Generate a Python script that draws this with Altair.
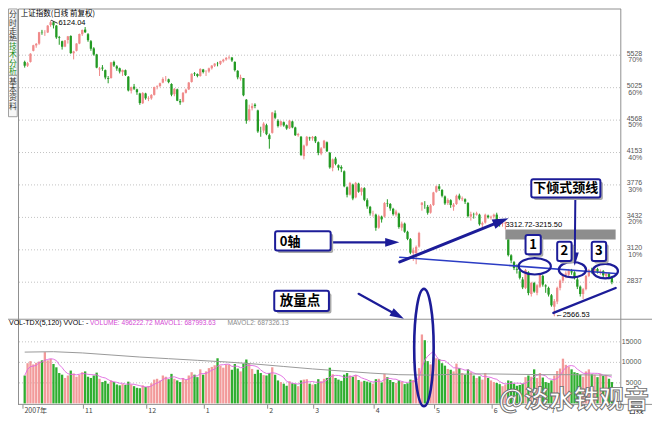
import altair as alt
import pandas as pd

# ---------------- data ----------------
opens = [5420,5360,5420,5600,5690,5720,5920,5900,5910,6040,
         6090,6030,5830,5760,5670,5780,5850,5560,5600,5720,
         5880,5960,5880,5760,5640,5540,5300,5330,5290,5170,
         5170,5420,5350,5320,5260,5290,5190,4980,5040,5000,
         4940,4800,4940,4860,4870,4920,5040,5050,5100,5160,
         5150,5080,4930,5000,4830,4820,4950,5000,5110,5240,
         5230,5200,5300,5270,5270,5320,5360,5390,5390,5430,
         5460,5490,5490,5420,5280,5160,5170,4850,4570,4730,
         4780,4700,4420,4430,4500,4370,4400,4660,4560,4500,
         4540,4500,4460,4550,4470,4370,4350,4110,4240,4340,
         4330,4350,4280,4140,4210,4280,4150,3970,4080,4000,
         3980,3930,3750,3670,3780,3640,3790,3700,3740,3610,
         3540,3470,3460,3330,3440,3440,3580,3570,3520,3460,
         3470,3330,3370,3290,3220,3090,3090,3150,3560,3560,
         3540,3480,3560,3700,3760,3720,3650,3580,3610,3540,
         3570,3660,3620,3620,3580,3440,3460,3460,3460,3360,
         3380,3450,3430,3440,3460,3390,3370,3370,3215.5,3070,
         3010,2950,2930,2860,2790,2920,2740,2830,2750,2800,
         2890,2810,2790,2730,2640,2680,2790,2850,2900,2900,
         2930,2920,2860,2800,2740,2780,2890,2940,2930,2950,
         2920,2930,2890,2910,2880]
highs = [5440,5420,5560,5700,5730,5920,5955,5950,6040,6124.04,
         6110,6040,5850,5770,5780,5850,5860,5600,5725,5890,
         5960,6005,5900,5780,5660,5550,5340,5370,5300,5200,
         5420,5440,5370,5330,5300,5300,5200,5040,5080,5010,
         4950,4960,4950,4900,4930,5040,5060,5100,5180,5200,
         5160,5090,5020,5010,4860,4960,5010,5110,5240,5260,
         5240,5320,5310,5290,5330,5370,5400,5420,5440,5470,
         5500,5522,5500,5430,5290,5220,5170,4860,4780,4800,
         4800,4710,4480,4540,4520,4390,4680,4700,4580,4560,
         4550,4510,4570,4560,4480,4400,4360,4250,4360,4350,
         4360,4360,4290,4220,4310,4290,4160,4080,4100,4010,
         4000,3940,3760,3810,3790,3810,3800,3750,3750,3630,
         3550,3500,3470,3460,3450,3590,3620,3580,3530,3510,
         3480,3390,3380,3300,3230,3140,3160,3290,3590,3600,
         3560,3570,3700,3770,3786,3730,3660,3630,3620,3580,
         3670,3680,3650,3630,3590,3490,3480,3490,3470,3390,
         3470,3460,3450,3470,3480,3410,3390,3390,3215.5,3080,
         3020,2990,2940,2880,2950,2930,2840,2840,2820,2910,
         2900,2820,2800,2740,2700,2800,2860,2910,2930,2950,
         2950,2930,2880,2810,2790,2900,2950,2960,2970,2960,
         2945,2940,2920,2920,2890]
lows = [5330,5340,5410,5590,5650,5700,5870,5850,5900,6010,
        5980,5800,5700,5620,5660,5720,5550,5460,5590,5710,
        5850,5900,5750,5600,5520,5320,5200,5280,5150,5090,
        5160,5340,5280,5240,5200,5200,4970,4940,4990,4920,
        4778,4790,4850,4830,4850,4910,5000,5030,5090,5120,
        5090,4900,4900,4830,4778,4810,4940,4990,5100,5200,
        5180,5190,5240,5200,5250,5300,5340,5350,5370,5410,
        5440,5460,5420,5270,5150,5130,4900,4520,4550,4700,
        4730,4400,4350,4400,4370,4200,4390,4580,4470,4480,
        4480,4440,4450,4460,4360,4350,4110,4070,4230,4300,
        4300,4270,4120,4120,4200,4160,3960,3930,4000,3940,
        3920,3750,3640,3660,3610,3630,3690,3660,3600,3520,
        3450,3440,3300,3320,3380,3430,3540,3500,3450,3440,
        3320,3300,3280,3210,3080,3020,2990.79,3140,3500,3520,
        3460,3470,3550,3690,3710,3640,3560,3560,3530,3500,
        3560,3610,3600,3570,3430,3400,3420,3450,3350,3330,
        3370,3420,3410,3420,3400,3340,3340,3312.72,3060,3000,
        2940,2910,2860,2780,2780,2730,2720,2750,2730,2790,
        2800,2750,2720,2640,2566.53,2660,2770,2830,2870,2880,
        2900,2860,2780,2720,2700,2770,2880,2910,2910,2910,
        2900,2880,2870,2860,2820]
closes = [5360,5400,5552,5692,5715,5914,5913,5903,6030,6092,
          6036,5825,5818,5667,5773,5843,5562,5589,5721,5884,
          5954,5914,5777,5634,5538,5330,5317,5315,5178,5158,
          5412,5362,5316,5269,5292,5214,4984,5032,5010,4958,
          4803,4946,4871,4868,4919,5035,5049,5091,5155,5161,
          5108,4922,5007,4836,4812,4950,4995,5101,5234,5230,
          5201,5309,5261,5272,5319,5361,5393,5386,5435,5456,
          5484,5497,5443,5291,5180,5180,4914,4559,4717,4761,
          4761,4419,4418,4521,4383,4320,4672,4599,4490,4552,
          4497,4457,4562,4471,4370,4385,4123,4238,4349,4330,
          4348,4292,4149,4204,4300,4168,3976,4070,4017,3972,
          3962,3761,3668,3796,3628,3796,3701,3739,3614,3544,
          3473,3472,3329,3444,3412,3580,3575,3524,3465,3492,
          3337,3370,3291,3222,3094,3116,3147,3278,3584,3558,
          3479,3556,3693,3761,3733,3657,3576,3613,3560,3563,
          3657,3626,3630,3594,3445,3465,3458,3473,3364,3375,
          3459,3433,3438,3459,3401,3370,3374,3379,3072,3024,
          2957,2943,2874,2794,2941,2748,2831,2760,2811,2904,
          2817,2802,2736,2651,2683,2790,2850,2900,2910,2935,
          2920,2870,2800,2740,2780,2890,2940,2935,2950,2925,
          2930,2895,2910,2870,2837]
volumes = [6800,9800,10300,9500,9900,10200,10500,12500,10500,10800,
           9600,8800,7400,7000,6200,6800,8000,7300,6500,7000,
           7600,7800,6500,6200,6800,7500,6000,5200,5500,4800,
           5600,5200,4600,4400,4700,4500,5300,4600,4200,3800,
           3700,4400,4000,4200,4900,5800,6000,5600,6800,6500,
           5900,7200,6000,5600,5200,6200,5800,6800,7600,7000,
           6400,8300,7000,7800,8600,8900,9300,11000,9200,8700,
           9500,9400,8200,9600,8500,7800,9700,10700,9600,8400,
           7200,8200,7400,6900,6800,7400,8800,7000,5600,5200,
           4800,4300,5400,4900,4700,4200,5600,5800,5900,4800,
           4600,4700,5900,5400,6000,6200,8700,7100,6200,5800,
           5500,7000,7400,6800,6500,6900,5700,5300,5500,5300,
           5100,4800,5900,6000,5100,7200,6400,5700,5200,5000,
           5600,5300,4700,4900,5800,5700,6400,8600,16800,15400,
           10300,9500,11300,11000,10800,9800,9200,8400,8200,7800,
           9700,8600,7400,7000,8300,7600,6800,6200,6600,5800,
           7400,6200,5600,5200,5000,4700,4200,4600,5600,5400,
           4800,4300,4500,4800,6400,6800,6500,8300,6200,7400,
           6300,5200,5000,5600,6800,7900,8500,10900,9400,9000,
           8300,7600,7400,7000,6500,7800,8300,7100,7000,6400,
           7200,6700,6900,6000,5200]
mavol2_idx = [0,10,20,30,40,50,60,70,80,90,100,110,120,130,140,150,160,170,180,190,200,204]
mavol2_val = [12500,12600,12300,11800,11300,10900,10500,10100,9600,9000,8400,
              7900,7400,7000,6900,7100,7200,7100,7000,7000,6900,6900]

price_ticks = [2837, 3120, 3432, 3776, 4153, 4568, 5025, 5528]
pct_labels = ["", "10%", "20%", "30%", "40%", "50%", "60%", "70%"]
vol_ticks = [5000, 10000, 15000]
month_labels = ["2007年", "11", "12", "1", "2", "3", "4", "5", "6", "7"]
month_idx = [0, 21, 43, 63, 85, 101, 122, 143, 163, 183]

# annotation anchor points in data space (bar index, index value)
neck_line = [130.3, 3053, 205.3, 2910]
support_line = [183.7, 2592, 205.3, 2789]
rise_arrow = [130.3, 3011, 165.5, 3394]
zero_arrow = [106.5, 3190, 127.7, 3190]
vol_arrow = [116.0, 2742, 129.6, 2573]
neck_arrow = [191.3, 3628, 191.1, 3036]
gap_band = [167, 205.3, 3215.50, 3312.72]

# ---------------- layout helpers ----------------
W, H = 602, 396
SX, SY = 0.9758, 0.9621


def PX(X):
    return SX * X - 11


def PY(Y):
    return SY * Y - 1


RED = "#f08a8a"
GREEN = "#239a23"
VRED = "#f29a9a"
VGREEN = "#2fae2f"
NAVY = "#1c1c98"
LINEBLUE = "#2b3cc4"
CJK = "Noto Sans CJK SC"
LAT = "Liberation Sans"

xs = alt.Scale(domain=[-0.2426, 205.43], nice=False, zero=False)
ps = alt.Scale(type="log", domain=[2837, 5528], range=[273.2, 46.2], nice=False)
vs = alt.Scale(domain=[0, 15000], range=[394.4, 332.85], nice=False, zero=False)

one = pd.DataFrame({"a": [0]})

n = len(closes)
df = pd.DataFrame({"i": list(range(n)), "o": opens, "h": highs, "l": lows,
                   "c": closes, "v": volumes})
df["dir"] = ["up" if c >= o else "down" for o, c in zip(opens, closes)]

XI = lambda f: alt.X(f, scale=xs, axis=None)
YP = lambda f: alt.Y(f, scale=ps, axis=None)
YV = lambda f: alt.Y(f, scale=vs, axis=None)

layers = []


def vrule(x, y1, y2, color="#8a8a8a", w=1.0, dash=None):
    kw = dict(color=color, strokeWidth=w)
    if dash:
        kw["strokeDash"] = dash
    return alt.Chart(one).mark_rule(**kw).encode(
        x=alt.value(x), y=alt.value(y1), y2=alt.value(y2))


def hrule(y, x1, x2, color="#8a8a8a", w=1.0, dash=None):
    kw = dict(color=color, strokeWidth=w)
    if dash:
        kw["strokeDash"] = dash
    return alt.Chart(one).mark_rule(**kw).encode(
        x=alt.value(x1), x2=alt.value(x2), y=alt.value(y))


def ptext(txt, x, y, size=7, color="black", align="left", font=LAT,
          weight="normal", baseline="middle", **extra):
    return alt.Chart(one).mark_text(
        text=txt, fontSize=size, color=color, align=align, font=font,
        fontWeight=weight, baseline=baseline, **extra).encode(
        x=alt.value(x), y=alt.value(y))


# gridlines
grid_df = pd.DataFrame({"p": price_ticks, "lab": [str(t) for t in price_ticks], "pct": pct_labels})
layers.append(alt.Chart(grid_df).mark_rule(color="#b4b4b4", strokeWidth=0.8, strokeDash=[1, 2]).encode(
    y=YP("p:Q"), x=alt.value(0), x2=alt.value(W)))
vgrid_df = pd.DataFrame({"v": vol_ticks, "lab": [str(t) for t in vol_ticks]})
layers.append(alt.Chart(vgrid_df).mark_rule(color="#b4b4b4", strokeWidth=0.8, strokeDash=[1, 2]).encode(
    y=YV("v:Q"), x=alt.value(0), x2=alt.value(W)))

# gap band
band_df = pd.DataFrame({"x1": [gap_band[0]], "x2": [gap_band[1]], "y1": [gap_band[2]], "y2": [gap_band[3]]})
layers.append(alt.Chart(band_df).mark_rect(color="#8d8d8d").encode(
    x=XI("x1:Q"), x2="x2:Q", y=YP("y1:Q"), y2="y2:Q"))

# candles
cscale = alt.Scale(domain=["up", "down"], range=[RED, GREEN])
layers.append(alt.Chart(df).mark_rule(strokeWidth=1).encode(
    x=XI("i:Q"), y=YP("l:Q"), y2="h:Q", color=alt.Color("dir:N", scale=cscale, legend=None)))
layers.append(alt.Chart(df).mark_bar(size=2.3).encode(
    x=XI("i:Q"), y=YP("o:Q"), y2="c:Q", color=alt.Color("dir:N", scale=cscale, legend=None)))

# volume bars + averages
vscale = alt.Scale(domain=["up", "down"], range=[VRED, VGREEN])
layers.append(alt.Chart(df).mark_bar(size=2.3).encode(
    x=XI("i:Q"), y=YV("v:Q"), color=alt.Color("dir:N", scale=vscale, legend=None)))
layers.append(alt.Chart(df).transform_window(
    ma5="mean(v)", frame=[-4, 0], sort=[alt.SortField("i")]).mark_line(
    color="#e066e0", strokeWidth=0.9).encode(x=XI("i:Q"), y=YV("ma5:Q")))
ma2_df = pd.DataFrame({"i": mavol2_idx, "m": mavol2_val})
layers.append(alt.Chart(ma2_df).mark_line(color="#9a9a9a", strokeWidth=1).encode(
    x=XI("i:Q"), y=YV("m:Q")))

# frame
layers.append(hrule(0, -0.5, W, color="#909090"))
layers.append(vrule(-0.5, 0, 396, color="#909090"))
layers.append(vrule(W - 0.2, 0, 396, color="#909090"))
layers.append(hrule(PY(323.5), -11, W + 31, color="#909090"))
layers.append(hrule(PY(412), -0.5, W + 31, color="#909090"))

# right axis labels
layers.append(alt.Chart(grid_df).mark_text(align="right", fontSize=7, color="#555555", font=LAT, dy=-1.5).encode(
    y=YP("p:Q"), x=alt.value(PX(650)), text="lab:N"))
layers.append(alt.Chart(grid_df).mark_text(align="right", fontSize=7, color="#555555", font=LAT, dy=5).encode(
    y=YP("p:Q"), x=alt.value(PX(650)), text="pct:N"))
layers.append(alt.Chart(vgrid_df).mark_text(align="right", fontSize=7, color="#555555", font=LAT).encode(
    y=YV("v:Q"), x=alt.value(PX(649)), text="lab:N"))

# month axis
mon_df = pd.DataFrame({"i": [m - 0.6 for m in month_idx], "lab": month_labels})
layers.append(alt.Chart(mon_df).mark_rule(color="#909090", strokeWidth=1).encode(
    x=XI("i:Q"), y=alt.value(PY(412)), y2=alt.value(PY(416.5))))
layers.append(alt.Chart(mon_df).mark_text(align="left", fontSize=7, color="#444444", font=CJK, dx=1.5).encode(
    x=XI("i:Q"), y=alt.value(PY(418.5)), text="lab:N"))
layers.append(ptext("日线", PX(636), PY(418.5), size=7.5, font=CJK))

# left tabs
for (y1, y2, txt, col) in [(1, 34, "分\n时\n走\n势", "#333333"),
                           (34, 70, "技\n术\n分\n析", "#118811"),
                           (70, 113, "基\n本\n资\n料", "#333333")]:
    layers.append(alt.Chart(one).mark_rect(fill="#f7f7f7", stroke="#8a8a8a", strokeWidth=0.8).encode(
        x=alt.value(PX(0.5)), x2=alt.value(PX(9.5)), y=alt.value(PY(y1)), y2=alt.value(PY(y2))))
    layers.append(alt.Chart(one).mark_text(text=txt, lineBreak="\n", lineHeight=8.3, fontSize=7.8,
                                           color=col, font=CJK, align="center", baseline="top").encode(
        x=alt.value(PX(5)), y=alt.value(PY(y1 + 2.5))))

# titles / legends
layers.append(ptext("上证指数(日线 前复权)", PX(13), PY(6.5), size=7.5, font=CJK))
layers.append(ptext("VOL-TDX(5,120) VVOL: -", PX(1), PY(327.5), size=7))
layers.append(ptext("VOLUME: 496222.72 MAVOL1: 687993.63", PX(84), PY(327.5), size=6.6, color="#d449d4"))
layers.append(ptext("MAVOL2: 687326.13", PX(225), PY(327.5), size=6.6, color="#8a8a8a"))


# ---------------- annotations ----------------
def seg(v, color, width):
    d = pd.DataFrame({"x1": [v[0]], "y1": [v[1]], "x2": [v[2]], "y2": [v[3]]})
    return alt.Chart(d).mark_rule(color=color, strokeWidth=width, strokeCap="round").encode(
        x=XI("x1:Q"), x2="x2:Q", y=YP("y1:Q"), y2="y2:Q")


HEAD = "M1,0L-1,-0.62L-1,0.62Z"


def head(x, y, angle, size):
    d = pd.DataFrame({"x": [x], "y": [y]})
    return alt.Chart(d).mark_point(shape=HEAD, filled=True, color=NAVY, opacity=1,
                                   size=size, angle=angle).encode(x=XI("x:Q"), y=YP("y:Q"))


def ellipse(x, y, rx, ry, size, width=2.2):
    path = f"M-{rx},0A{rx},{ry} 0 1,0 {rx},0A{rx},{ry} 0 1,0 -{rx},0Z"
    d = pd.DataFrame({"x": [x], "y": [y]})
    return alt.Chart(d).mark_point(shape=path, filled=False, color=NAVY, opacity=1,
                                   strokeWidth=width, size=size).encode(x=XI("x:Q"), y=YP("y:Q"))


def box(x1, x2, y1, y2, txt, tx, ty, size, align="left"):
    d = pd.DataFrame({"x1": [x1], "x2": [x2], "y1": [y1], "y2": [y2]})
    out = [
        alt.Chart(d).mark_rect(color="#a9a9a9", xOffset=2.5, x2Offset=2.5, yOffset=2.5, y2Offset=2.5,
                               cornerRadius=2).encode(x=XI("x1:Q"), x2="x2:Q", y=YP("y1:Q"), y2="y2:Q"),
        alt.Chart(d).mark_rect(fill="white", stroke=NAVY, strokeWidth=2, cornerRadius=2).encode(
            x=XI("x1:Q"), x2="x2:Q", y=YP("y1:Q"), y2="y2:Q"),
    ]
    t = pd.DataFrame({"x": [tx], "y": [ty]})
    out.append(alt.Chart(t).mark_text(text=txt, fontSize=size, fontWeight="bold", font=CJK,
                                      color="black", align=align, baseline="middle").encode(
        x=XI("x:Q"), y=YP("y:Q")))
    return out


layers.append(seg(neck_line, LINEBLUE, 1.6))
layers.append(seg(support_line, NAVY, 2.4))
layers.append(seg(rise_arrow, NAVY, 3))
layers.append(head(rise_arrow[2], rise_arrow[3], 338, 260))
layers.append(seg(zero_arrow, NAVY, 2.2))
layers.append(head(zero_arrow[2], zero_arrow[3], 0, 200))
layers.append(seg(vol_arrow, NAVY, 2.2))
layers.append(head(vol_arrow[2], vol_arrow[3], 29, 200))
layers.append(seg(neck_arrow, NAVY, 2))
layers.append(head(neck_arrow[2], neck_arrow[3], 90, 170))

layers.append(ellipse(138.7, 2341, 0.166, 1, 13782, 2.6))
layers.append(ellipse(177.2, 2973, 1, 0.51, 1037))
layers.append(ellipse(190.3, 2943, 1, 0.564, 745))
layers.append(ellipse(201.7, 2931, 1, 0.567, 645))

layers += box(87, 106.3, 3296, 3114, "0轴", 88.6, 3190, 13)
layers += box(86.7, 105.7, 2766, 2606, "放量点", 88.6, 2681, 13.5)
layers += box(176, 200, 3840, 3639, "下倾式颈线", 188, 3738, 13, align="center")
layers += box(174, 179.3, 3259, 3080, "1", 176.65, 3168, 13, align="center")
layers += box(185, 190, 3195, 3019, "2", 187.5, 3106, 13, align="center")
layers += box(197, 202, 3195, 3019, "3", 199.5, 3106, 13, align="center")

lab_df = pd.DataFrame({"x": [167.0, 184.3, 11.7], "y": [3361, 2574, 6071],
                       "t": ["3312.72-3215.50", "←2566.53", "6124.04"]})
layers.append(alt.Chart(lab_df).mark_text(align="left", fontSize=7.5, font=LAT, color="black").encode(
    x=XI("x:Q"), y=YP("y:Q"), text="t:N"))
layers.append(seg([9.3, 6124, 11.3, 6075], "#333333", 1))

# watermark
layers.append(ptext("@淡水铁观音", PX(503), PY(407), size=25, font=CJK, weight="bold",
                    color="white", stroke="#6f6f6f", strokeWidth=0.9))

chart = alt.layer(*layers).resolve_scale(y="independent", color="independent").properties(
    width=W, height=H,
    padding={"left": 11, "top": 1, "right": 31, "bottom": 9},
    autosize=alt.AutoSizeParams(type="none"),
    background="white",
).configure_view(stroke=None)

chart.save("out.html", embed_options={"renderer": "svg", "actions": False})
